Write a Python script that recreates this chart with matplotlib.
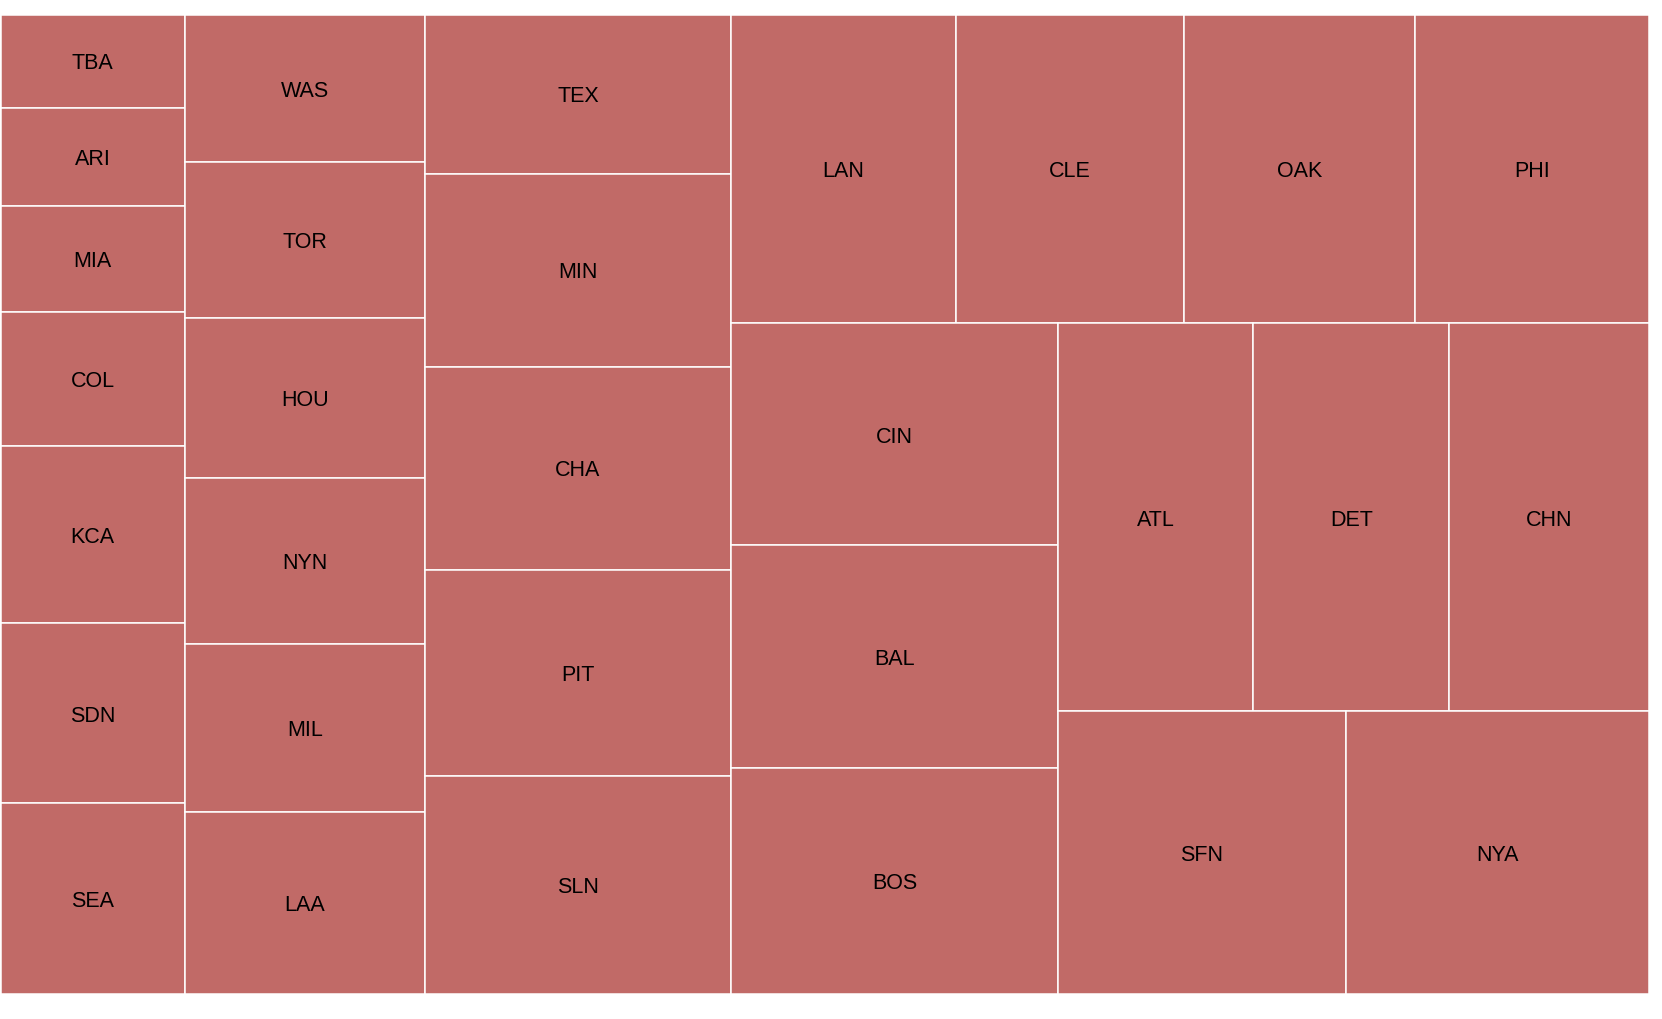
import matplotlib
matplotlib.use("Agg")
import matplotlib.pyplot as plt
from matplotlib.patches import Rectangle
import math

# ---- data (in layout order, ascending) ----
teams = ["TBA", "ARI", "MIA", "COL", "KCA", "SDN", "SEA",
         "WAS", "TOR", "HOU", "NYN", "MIL", "LAA",
         "TEX", "MIN", "CHA", "PIT", "SLN",
         "LAN", "CLE", "OAK", "PHI", "CIN", "BAL", "BOS",
         "ATL", "DET", "CHN", "SFN", "NYA"]
values = [17.1, 18.0, 19.5, 24.6, 32.6, 33.1, 35.0,
          35.5, 37.5, 38.5, 39.9, 40.4, 43.9,
          48.6, 59.0, 62.0, 63.0, 66.7,
          69.5, 70.5, 71.2, 72.4, 72.7, 72.9, 74.1,
          75.8, 76.0, 77.5, 81.3, 85.8]

FILL = "#c16a67"
PHI = (1 + math.sqrt(5)) / 2
FONT_PT = 15.5
FONT_PX = FONT_PT * 100 / 72


def squarify(vals, x0, y0, x1, y1, ratio=PHI):
    """Port of d3-hierarchy's squarifyRatio."""
    n = len(vals)
    rects = [None] * n
    value = float(sum(vals))
    i0 = i1 = 0
    while i0 < n:
        dx, dy = x1 - x0, y1 - y0
        sum_v = vals[i1]
        i1 += 1
        min_v = max_v = sum_v
        alpha = max(dy / dx, dx / dy) / (value * ratio)
        beta = sum_v * sum_v * alpha
        min_ratio = max(max_v / beta, beta / min_v)
        while i1 < n:
            nv = vals[i1]
            sum_v += nv
            min_v = min(min_v, nv)
            max_v = max(max_v, nv)
            beta = sum_v * sum_v * alpha
            new_ratio = max(max_v / beta, beta / min_v)
            if new_ratio > min_ratio:
                sum_v -= nv
                break
            min_ratio = new_ratio
            i1 += 1
        idx = range(i0, i1)
        if dx < dy:  # dice: row across the top
            ny = y0 + dy * sum_v / value
            k = (x1 - x0) / sum_v
            cx = x0
            for i in idx:
                w = vals[i] * k
                rects[i] = (cx, y0, cx + w, ny)
                cx += w
            y0 = ny
        else:  # slice: column on the left
            nx = x0 + dx * sum_v / value
            k = (y1 - y0) / sum_v
            cy = y0
            for i in idx:
                h = vals[i] * k
                rects[i] = (x0, cy, nx, cy + h)
                cy += h
            x0 = nx
        value -= sum_v
        i0 = i1
    return rects


W, H = 1662, 1020
fig = plt.figure(figsize=(W / 100, H / 100), dpi=100)
ax = fig.add_axes([0, 0, 1, 1])
ax.set_xlim(0, W)
ax.set_ylim(H, 0)
ax.axis("off")

rects = squarify(values, 1, 15.5, 1649, 995)
for name, (rx0, ry0, rx1, ry1) in zip(teams, rects):
    ax.add_patch(Rectangle((rx0, ry0), rx1 - rx0, ry1 - ry0,
                           facecolor=FILL, edgecolor="white", linewidth=1.1))
    ax.text((rx0 + rx1) / 2, (ry0 + ry1) / 2 + 0.34 * FONT_PX, name,
            ha="center", va="baseline",
            fontsize=FONT_PT, color="black",
            family=["Liberation Sans", "DejaVu Sans"])

fig.savefig("out.png", dpi=100, facecolor="white")
